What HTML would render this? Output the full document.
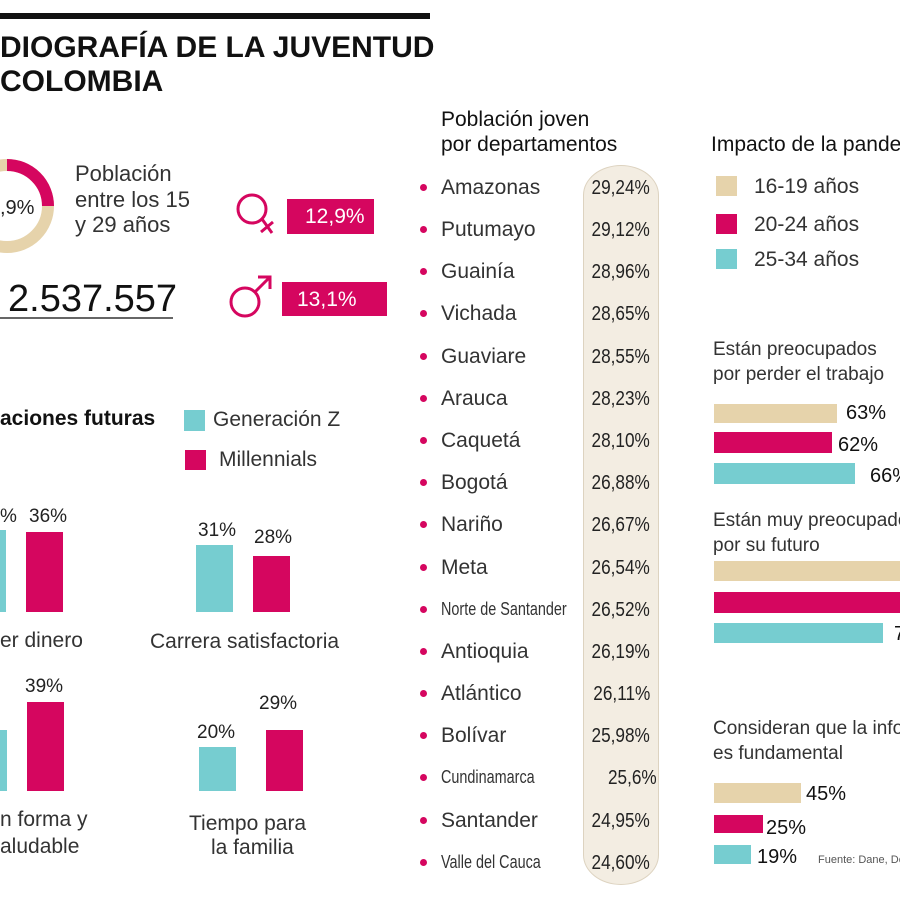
<!DOCTYPE html>
<html style="overflow:hidden"><head><meta charset="utf-8"><style>
html,body{overflow:hidden}
body{margin:0;width:900px;height:900px;background:#fff;position:relative;overflow:hidden;font-family:"Liberation Sans","DejaVu Sans",sans-serif;color:#222}
.a{position:absolute;white-space:nowrap;line-height:1}
.b{position:absolute}
.m{background:#d5065f}.t{background:#76cdd0}.g{background:#e6d3ab}
.dot{position:absolute;width:7px;height:7px;border-radius:50%;background:#d5065f;left:420px}
.n{position:absolute;left:441px;font-size:21px;line-height:1;color:#333;white-space:nowrap}
.nc{font-size:18px;transform:scaleX(.8);transform-origin:left}
.v{position:absolute;right:250px;font-size:20px;line-height:1;color:#222;transform:scaleX(.86);transform-origin:right}
#r{position:absolute;left:700px;top:0;width:200px;height:900px;overflow:hidden}
#r .a,#r .b{margin-left:-700px}
</style></head><body>
<div class="b" style="left:0;top:13px;width:430px;height:6px;background:#111"></div>
<div class="a" style="left:0;top:33px;font-size:30px;font-weight:bold;color:#111">DIOGRAFÍA DE LA JUVENTUD</div>
<div class="a" style="left:0;top:67px;font-size:30px;font-weight:bold;color:#111">COLOMBIA</div>

<svg class="b" style="left:0;top:0" width="430" height="340">
<circle cx="7" cy="206" r="41" fill="none" stroke="#e6d3ab" stroke-width="12"/>
<path d="M7 165 A41 41 0 0 1 48 206" fill="none" stroke="#d5065f" stroke-width="12"/>
<g fill="none" stroke="#d5065f" stroke-width="3">
<circle cx="252" cy="209" r="14"/><line x1="262" y1="219" x2="272" y2="233"/><line x1="261" y1="232" x2="273" y2="222"/>
<circle cx="245" cy="302" r="14"/><line x1="255" y1="292" x2="270" y2="277"/><polyline points="258,277 270,277 270,289"/>
</g>
<line x1="0" y1="318" x2="173" y2="318" stroke="#333" stroke-width="1.5"/>
</svg>
<div class="a" style="left:0;top:198px;font-size:20px">,9%</div>
<div class="a" style="left:75px;top:163px;font-size:22px;color:#333">Población</div>
<div class="a" style="left:75px;top:189px;font-size:22px;color:#333">entre los 15</div>
<div class="a" style="left:75px;top:214px;font-size:22px;color:#333">y 29 años</div>
<div class="b m" style="left:287px;top:199px;width:87px;height:35px"></div>
<div class="a" style="left:305px;top:206px;font-size:21px;color:#fff">12,9%</div>
<div class="b m" style="left:282px;top:282px;width:105px;height:34px"></div>
<div class="a" style="left:297px;top:289px;font-size:21px;color:#fff">13,1%</div>
<div class="a" style="left:8px;top:280px;font-size:38px;color:#111">2.537.557</div>

<div class="a" style="left:0;top:408px;font-size:21px;font-weight:bold;color:#111">aciones futuras</div>
<div class="b t" style="left:184px;top:410px;width:21px;height:21px"></div>
<div class="a" style="left:213px;top:409px;font-size:21px;color:#333">Generación Z</div>
<div class="b m" style="left:185px;top:450px;width:21px;height:20px"></div>
<div class="a" style="left:219px;top:449px;font-size:21px;color:#333">Millennials</div>

<div class="b t" style="left:0;top:530px;width:6px;height:82px"></div>
<div class="b m" style="left:26px;top:532px;width:37px;height:80px"></div>
<div class="a" style="left:0;top:507px;font-size:19px">%</div>
<div class="a" style="left:29px;top:507px;font-size:19px">36%</div>
<div class="b t" style="left:196px;top:545px;width:37px;height:67px"></div>
<div class="b m" style="left:253px;top:556px;width:37px;height:56px"></div>
<div class="a" style="left:198px;top:521px;font-size:19px">31%</div>
<div class="a" style="left:254px;top:528px;font-size:19px">28%</div>
<div class="a" style="left:0;top:630px;font-size:21px;color:#333">er dinero</div>
<div class="a" style="left:150px;top:631px;font-size:21px;color:#333">Carrera satisfactoria</div>

<div class="b t" style="left:0;top:730px;width:7px;height:61px"></div>
<div class="b m" style="left:27px;top:702px;width:37px;height:89px"></div>
<div class="a" style="left:25px;top:677px;font-size:19px">39%</div>
<div class="b t" style="left:199px;top:747px;width:37px;height:44px"></div>
<div class="b m" style="left:266px;top:730px;width:37px;height:61px"></div>
<div class="a" style="left:197px;top:723px;font-size:19px">20%</div>
<div class="a" style="left:259px;top:694px;font-size:19px">29%</div>
<div class="a" style="left:0;top:809px;font-size:21px;color:#333">n forma y</div>
<div class="a" style="left:0;top:836px;font-size:21px;color:#333">aludable</div>
<div class="a" style="left:189px;top:813px;font-size:21px;color:#333">Tiempo para</div>
<div class="a" style="left:211px;top:837px;font-size:21px;color:#333">la familia</div>

<div class="a" style="left:441px;top:109px;font-size:21px;color:#111">Población joven</div>
<div class="a" style="left:441px;top:134px;font-size:21px;color:#111">por departamentos</div>
<div class="b" style="left:583px;top:165px;width:76px;height:720px;background:#f3ede2;border:1px solid #ddd3c0;border-radius:38px/30px;box-sizing:border-box"></div>

<div class="dot" style="top:184px"></div><div class="n" style="top:177px">Amazonas</div><div class="v" style="top:178px">29,24%</div>
<div class="dot" style="top:226px"></div><div class="n" style="top:219px">Putumayo</div><div class="v" style="top:220px">29,12%</div>
<div class="dot" style="top:268px"></div><div class="n" style="top:261px">Guainía</div><div class="v" style="top:262px">28,96%</div>
<div class="dot" style="top:310px"></div><div class="n" style="top:303px">Vichada</div><div class="v" style="top:304px">28,65%</div>
<div class="dot" style="top:353px"></div><div class="n" style="top:346px">Guaviare</div><div class="v" style="top:347px">28,55%</div>
<div class="dot" style="top:395px"></div><div class="n" style="top:388px">Arauca</div><div class="v" style="top:389px">28,23%</div>
<div class="dot" style="top:437px"></div><div class="n" style="top:430px">Caquetá</div><div class="v" style="top:431px">28,10%</div>
<div class="dot" style="top:479px"></div><div class="n" style="top:472px">Bogotá</div><div class="v" style="top:473px">26,88%</div>
<div class="dot" style="top:521px"></div><div class="n" style="top:514px">Nariño</div><div class="v" style="top:515px">26,67%</div>
<div class="dot" style="top:564px"></div><div class="n" style="top:557px">Meta</div><div class="v" style="top:558px">26,54%</div>
<div class="dot" style="top:606px"></div><div class="n nc" style="top:600px">Norte de Santander</div><div class="v" style="top:600px">26,52%</div>
<div class="dot" style="top:648px"></div><div class="n" style="top:641px">Antioquia</div><div class="v" style="top:642px">26,19%</div>
<div class="dot" style="top:690px"></div><div class="n" style="top:683px">Atlántico</div><div class="v" style="top:684px">26,11%</div>
<div class="dot" style="top:732px"></div><div class="n" style="top:725px">Bolívar</div><div class="v" style="top:726px">25,98%</div>
<div class="dot" style="top:774px"></div><div class="n nc" style="top:768px">Cundinamarca</div><div class="v" style="top:768px;right:243px">25,6%</div>
<div class="dot" style="top:817px"></div><div class="n" style="top:810px">Santander</div><div class="v" style="top:811px">24,95%</div>
<div class="dot" style="top:859px"></div><div class="n nc" style="top:853px">Valle del Cauca</div><div class="v" style="top:853px">24,60%</div>

<div id="r">
<div class="a" style="left:711px;top:134px;font-size:21px;color:#111">Impacto de la pandemia</div>
<div class="b g" style="left:716px;top:176px;width:21px;height:20px"></div>
<div class="a" style="left:754px;top:176px;font-size:21px;color:#333">16-19 años</div>
<div class="b m" style="left:716px;top:214px;width:21px;height:20px"></div>
<div class="a" style="left:754px;top:214px;font-size:21px;color:#333">20-24 años</div>
<div class="b t" style="left:716px;top:249px;width:21px;height:20px"></div>
<div class="a" style="left:754px;top:249px;font-size:21px;color:#333">25-34 años</div>

<div class="a" style="left:713px;top:340px;font-size:19px;color:#333">Están preocupados</div>
<div class="a" style="left:713px;top:365px;font-size:19px;color:#333">por perder el trabajo</div>
<div class="b g" style="left:714px;top:404px;width:123px;height:19px"></div>
<div class="b m" style="left:714px;top:432px;width:118px;height:21px"></div>
<div class="b t" style="left:714px;top:463px;width:141px;height:21px"></div>
<div class="a" style="left:846px;top:403px;font-size:20px;color:#111">63%</div>
<div class="a" style="left:838px;top:435px;font-size:20px;color:#111">62%</div>
<div class="a" style="left:870px;top:466px;font-size:20px;color:#111">66%</div>

<div class="a" style="left:713px;top:511px;font-size:19px;color:#333">Están muy preocupados</div>
<div class="a" style="left:713px;top:536px;font-size:19px;color:#333">por su futuro</div>
<div class="b g" style="left:714px;top:561px;width:186px;height:20px"></div>
<div class="b m" style="left:714px;top:592px;width:186px;height:21px"></div>
<div class="b t" style="left:714px;top:623px;width:169px;height:20px"></div>
<div class="a" style="left:894px;top:624px;font-size:20px;color:#111">7</div>

<div class="a" style="left:713px;top:719px;font-size:19px;color:#333">Consideran que la información</div>
<div class="a" style="left:713px;top:744px;font-size:19px;color:#333">es fundamental</div>
<div class="b g" style="left:714px;top:783px;width:87px;height:20px"></div>
<div class="b m" style="left:714px;top:815px;width:49px;height:18px"></div>
<div class="b t" style="left:714px;top:845px;width:37px;height:19px"></div>
<div class="a" style="left:806px;top:784px;font-size:20px;color:#111">45%</div>
<div class="a" style="left:766px;top:818px;font-size:20px;color:#111">25%</div>
<div class="a" style="left:757px;top:847px;font-size:20px;color:#111">19%</div>
<div class="a" style="left:818px;top:855px;font-size:11px;color:#555">Fuente: Dane, Deloitte</div>
</div>
</body></html>
